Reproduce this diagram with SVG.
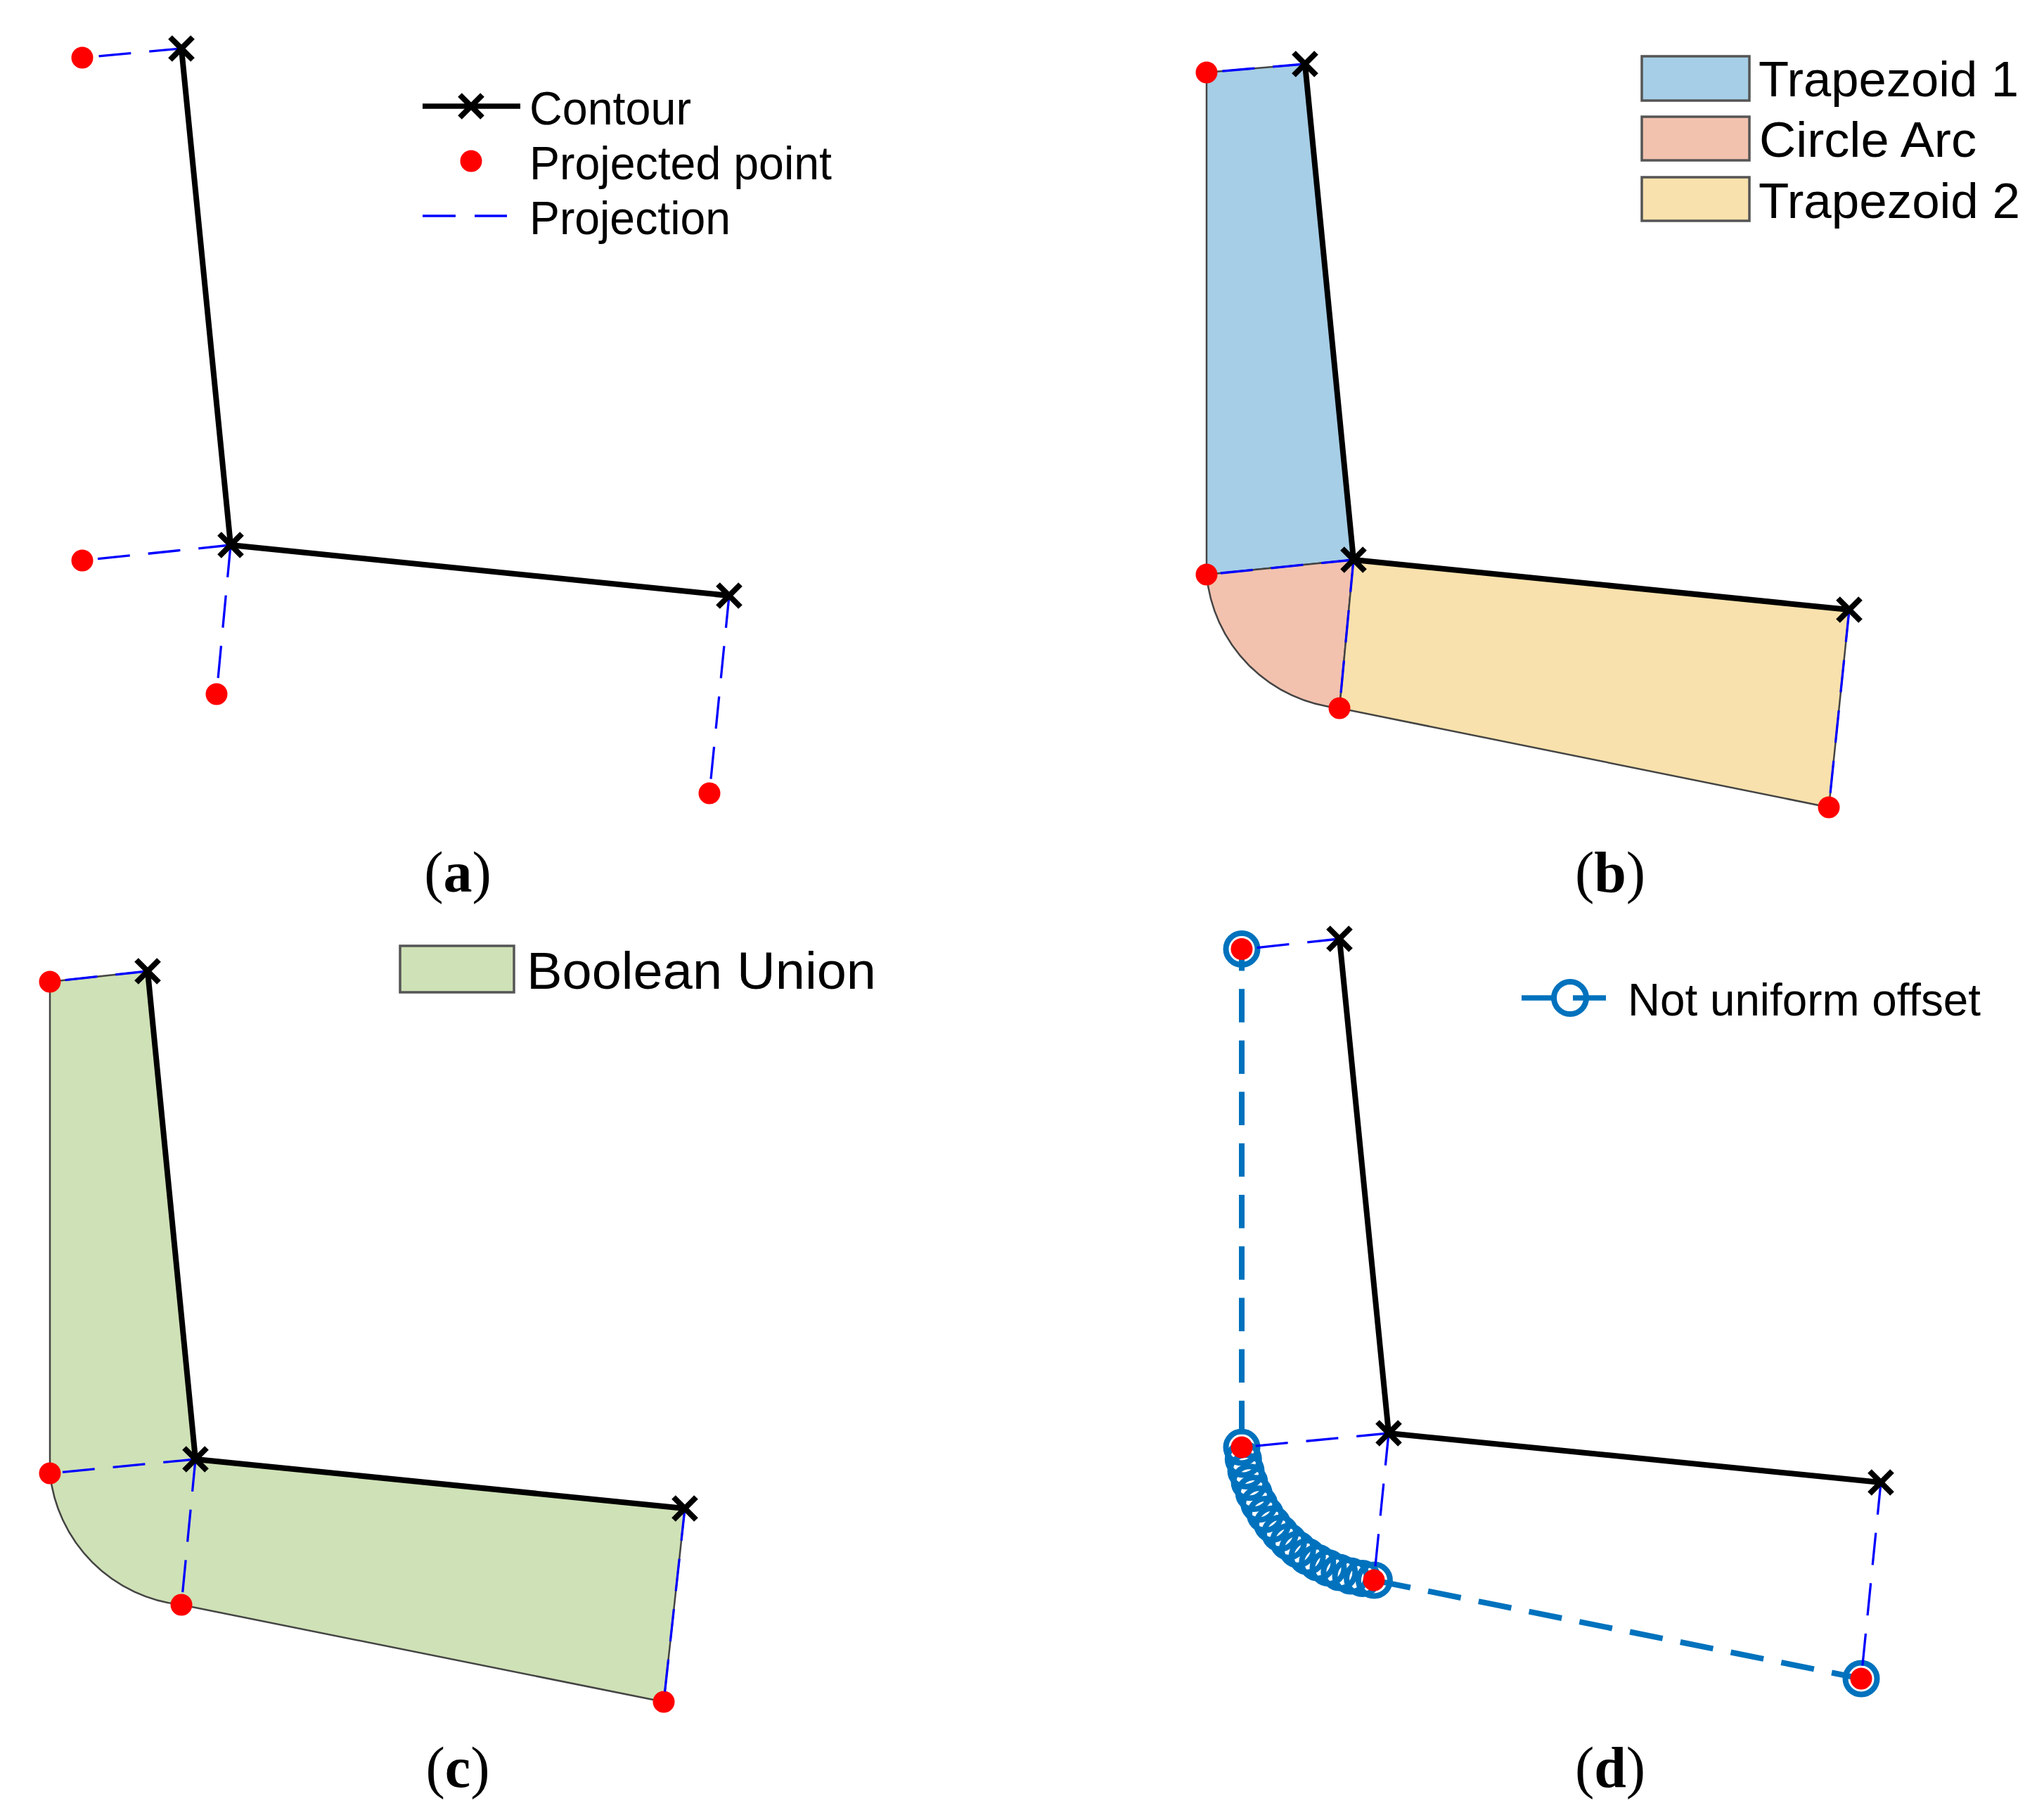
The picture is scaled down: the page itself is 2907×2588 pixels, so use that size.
<svg xmlns="http://www.w3.org/2000/svg" xmlns:xlink="http://www.w3.org/1999/xlink" width="2907" height="2588" viewBox="0 0 2907 2588">
<style>
text{font-family:"Liberation Sans",Arial,sans-serif;fill:#000}
.cap{font-family:"Liberation Serif","Times New Roman",serif;font-size:82px;text-anchor:middle}
.cap tspan{font-weight:bold}
.contour{fill:none;stroke:#000;stroke-width:8}
.cross{fill:none;stroke:#000;stroke-width:8}
.proj{fill:none;stroke:#00f;stroke-width:3.3;stroke-dasharray:46 26}
.edge{fill:none;stroke:#444;stroke-width:2.5}
.ring{fill:none;stroke:#0072bd;stroke-width:8}
.off{fill:none;stroke:#0072bd;stroke-width:8;stroke-dasharray:47.5 25.7}
.box{stroke:#555;stroke-width:3.5}
.t1{fill:#a6cee6}.a1{fill:#f2c2ae}.t2{fill:#f8e1ac}.u{fill:#cfe1b6}
</style>
<defs>
<path id="x" class="cross" d="M-16-16L16 16M-16 16L16-16"/>
<circle id="p" r="15.5" fill="#f00"/>
</defs>
<rect width="2907" height="2588" fill="#fff"/>

<g id="panel-a-connectors">
<path class="proj" d="M258 69L117 82M328 775L117 797M328 775L308 987M1037 847L1009 1128"/>
<path class="contour" d="M258 69L328 775L1037 847"/>
</g>
<g id="panel-a-nodes">
<use href="#x" x="258" y="69"/><use href="#x" x="328" y="775"/><use href="#x" x="1037" y="847"/>
<use href="#p" x="117" y="82"/><use href="#p" x="117" y="797"/><use href="#p" x="308" y="987"/><use href="#p" x="1009" y="1128"/>
</g>
<g id="legend-a">
<path d="M601 151H740" stroke="#000" stroke-width="7.5" fill="none"/><use href="#x" x="670" y="151"/>
<use href="#p" x="670" y="229"/>
<path d="M601 307H648M675 307H721" stroke="#00f" stroke-width="3.3" fill="none"/>
<text x="753" y="177" font-size="66" textLength="230" lengthAdjust="spacingAndGlyphs">Contour</text>
<text x="753" y="255" font-size="66" textLength="430" lengthAdjust="spacingAndGlyphs">Projected point</text>
<text x="753" y="333" font-size="66" textLength="286" lengthAdjust="spacingAndGlyphs">Projection</text>
</g>
<text class="cap" x="651" y="1268">(<tspan>a</tspan>)</text>

<g id="panel-b-shapes">
<path id="trapezoid-1" class="t1 edge" style="fill:#a6cee6" d="M1716 103L1856 91L1925 796L1716 817Z"/>
<path id="circle-arc" class="a1 edge" style="fill:#f2c2ae" d="M1925 796L1716 817A210 210 0 0 0 1905 1007Z"/>
<path id="trapezoid-2" class="t2 edge" style="fill:#f8e1ac" d="M1925 796L2630 867L2601 1148L1905 1007Z"/>
</g>
<g id="panel-b-nodes-dots">
<use href="#p" x="1716" y="103"/><use href="#p" x="1716" y="817"/><use href="#p" x="1905" y="1007"/><use href="#p" x="2601" y="1148"/>
</g>
<g id="panel-b-connectors">
<path class="proj" d="M1856 91L1716 103M1925 796L1716 817M1925 796L1905 1007M2630 867L2601 1148"/>
<path class="contour" d="M1856 91L1925 796L2630 867"/>
</g>
<g id="panel-b-nodes-crosses">
<use href="#x" x="1856" y="91"/><use href="#x" x="1925" y="796"/><use href="#x" x="2630" y="867"/>
</g>
<g id="legend-b">
<rect class="box t1" x="2335" y="80" width="153" height="63"/>
<rect class="box a1" x="2335" y="166" width="153" height="62"/>
<rect class="box t2" x="2335" y="252" width="153" height="62"/>
<text x="2501" y="137" font-size="71" textLength="370" lengthAdjust="spacingAndGlyphs">Trapezoid 1</text>
<text x="2502" y="223" font-size="71" textLength="309" lengthAdjust="spacingAndGlyphs">Circle Arc</text>
<text x="2501" y="310" font-size="71" textLength="372" lengthAdjust="spacingAndGlyphs">Trapezoid 2</text>
</g>
<text class="cap" x="2290" y="1268">(<tspan>b</tspan>)</text>

<g id="panel-c-shapes">
<path id="boolean-union" class="edge" style="fill:#cfe1b6" d="M71 1396L210 1381L278 2075L974 2145L944 2420L258 2282A210 210 0 0 1 71 2095Z"/>
</g>
<g id="panel-c-dots">
<use href="#p" x="71" y="1396"/><use href="#p" x="71" y="2095"/><use href="#p" x="258" y="2282"/><use href="#p" x="944" y="2420"/>
</g>
<g id="panel-c-connectors">
<path class="proj" d="M210 1381L71 1396M278 2075L71 2095M278 2075L258 2282M974 2145L944 2420"/>
<path class="contour" d="M210 1381L278 2075L974 2145"/>
</g>
<g id="panel-c-crosses">
<use href="#x" x="210" y="1381"/><use href="#x" x="278" y="2075"/><use href="#x" x="974" y="2145"/>
</g>
<g id="legend-c">
<rect class="box u" x="569" y="1345" width="162" height="66"/>
<text x="749" y="1406" font-size="75" textLength="497" lengthAdjust="spacingAndGlyphs">Boolean Union</text>
</g>
<text class="cap" x="651" y="2541">(<tspan>c</tspan>)</text>

<g id="panel-d-offset">
<path class="off" style="stroke-dashoffset:17" d="M1766 1350V2058"/>
<path class="off" style="stroke-dashoffset:-5.4" d="M1954 2247L2647 2387"/>
<circle class="ring" r="22.5" cx="1766" cy="1349.5"/><circle class="ring" r="22.5" cx="2647" cy="2387"/>
<circle class="ring" r="22.5" cx="1766" cy="2058"/><circle class="ring" r="22.5" cx="1768.3" cy="2075"/><circle class="ring" r="22.5" cx="1772" cy="2091.6"/><circle class="ring" r="22.5" cx="1777" cy="2107.8"/><circle class="ring" r="22.5" cx="1783.3" cy="2123.6"/><circle class="ring" r="22.5" cx="1790.8" cy="2138.8"/><circle class="ring" r="22.5" cx="1799.5" cy="2153.4"/><circle class="ring" r="22.5" cx="1809.5" cy="2167.2"/><circle class="ring" r="22.5" cx="1820.5" cy="2180.2"/><circle class="ring" r="22.5" cx="1832.4" cy="2192.2"/><circle class="ring" r="22.5" cx="1845.4" cy="2203.2"/><circle class="ring" r="22.5" cx="1859.2" cy="2213.2"/><circle class="ring" r="22.5" cx="1873.8" cy="2222"/><circle class="ring" r="22.5" cx="1889" cy="2229.6"/><circle class="ring" r="22.5" cx="1904.8" cy="2235.9"/><circle class="ring" r="22.5" cx="1921" cy="2241"/><circle class="ring" r="22.5" cx="1937.6" cy="2244.6"/><circle class="ring" r="22.5" cx="1954.4" cy="2247"/>
</g>
<g id="panel-d-nodes-dots">
<use href="#p" x="1766" y="1349.5"/><use href="#p" x="1766" y="2058"/><use href="#p" x="1954" y="2247"/><use href="#p" x="2647" y="2387"/>
</g>
<g id="panel-d-connectors">
<path class="proj" d="M1905 1335L1766 1350M1975 2038L1766 2058M1975 2038L1954 2247M2675 2108L2647 2387"/>
<path class="contour" d="M1905 1335L1975 2038L2675 2108"/>
</g>
<g id="panel-d-nodes-crosses">
<use href="#x" x="1905" y="1335"/><use href="#x" x="1975" y="2038"/><use href="#x" x="2675" y="2108"/>
</g>
<g id="legend-d">
<path d="M2164 1419H2212M2237 1419H2284" stroke="#0072bd" stroke-width="7.5" fill="none"/>
<circle class="ring" r="23" cx="2233" cy="1419"/>
<text x="2315" y="1444" font-size="65" textLength="502" lengthAdjust="spacingAndGlyphs">Not uniform offset</text>
</g>
<text class="cap" x="2290" y="2541">(<tspan>d</tspan>)</text>
</svg>
